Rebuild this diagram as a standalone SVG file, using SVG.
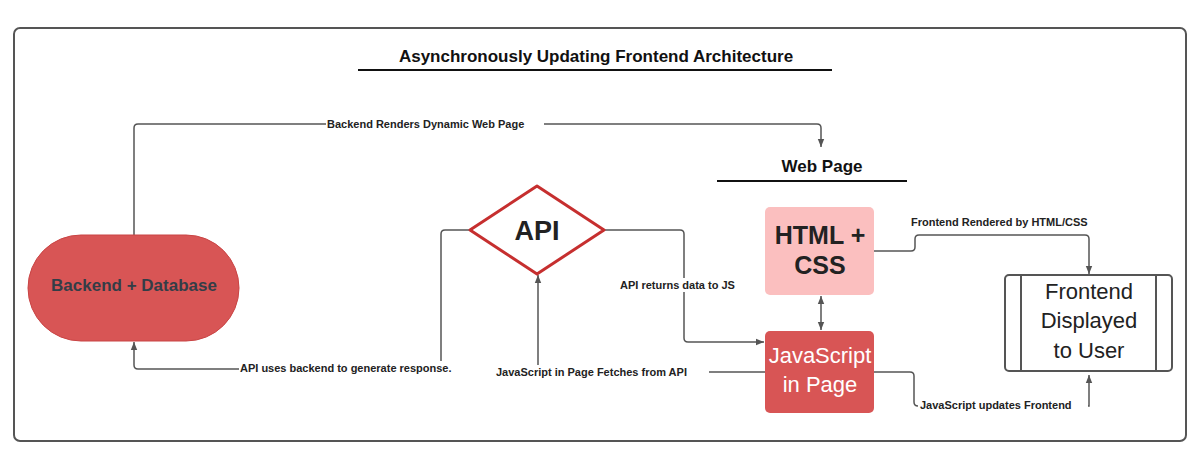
<svg xmlns="http://www.w3.org/2000/svg" width="1200" height="459" viewBox="0 0 1200 459">
<style>
.c{fill:none;stroke:#555;stroke-width:1.5}
.l{font-family:"Liberation Sans",Arial,sans-serif;font-size:11px;font-weight:bold;fill:#222}
.h{font-family:"Liberation Sans",Arial,sans-serif;font-weight:bold;fill:#111;font-size:17px;text-anchor:middle}
.bg{fill:#fff}
</style>
<defs><marker id="a" viewBox="0 0 10 10" refX="10" refY="5" markerWidth="8" markerHeight="8" orient="auto-start-reverse" markerUnits="userSpaceOnUse"><path d="M0,1 L10,5 L0,9 z" fill="#555"/></marker></defs>
<rect x="0" y="0" width="1200" height="459" fill="#fff"/>
<rect x="14" y="28" width="1172" height="413" rx="6" fill="#fff" stroke="#555" stroke-width="2"/>
<text class="h" x="596" y="62">Asynchronously Updating Frontend Architecture</text>
<line x1="358" y1="70" x2="832" y2="70" stroke="#111" stroke-width="2"/>
<text class="h" x="822" y="172">Web Page</text>
<line x1="717" y1="181" x2="907" y2="181" stroke="#111" stroke-width="2"/>
<g id="connectors">
<path class="c" d="M134,235 V128 Q134,124 138,124 H817 Q821,124 821,128 V147" marker-end="url(#a)"/>
<rect class="bg" x="326" y="117" width="218" height="14"/>
<text class="l" x="327" y="128">Backend Renders Dynamic Web Page</text>
<path class="c" d="M470,230 H445 Q441,230 441,234 V369 H138 Q134,369 134,365 V342" marker-end="url(#a)"/>
<rect class="bg" x="239" y="361" width="236" height="14"/>
<text class="l" x="240" y="372">API uses backend to generate response.</text>
<path class="c" d="M765,372 H538 V275" marker-end="url(#a)"/>
<rect class="bg" x="495" y="365" width="214" height="14"/>
<text class="l" x="496" y="376">JavaScript in Page Fetches from API</text>
<path class="c" d="M604,230 H680 Q684,230 684,234 V338 Q684,342 688,342 H764" marker-end="url(#a)"/>
<rect class="bg" x="618" y="278" width="132" height="14"/>
<text class="l" x="620" y="289">API returns data to JS</text>
<path class="c" d="M821,296 V330" marker-start="url(#a)" marker-end="url(#a)"/>
<path class="c" d="M874,251 H911 Q915,251 915,247 V239 Q915,235 919,235 H1085 Q1089,235 1089,239 V274" marker-end="url(#a)"/>
<text class="l" x="911" y="226">Frontend Rendered by HTML/CSS</text>
<path class="c" d="M874,372 H910 Q914,372 914,376 V402 Q914,406 918,406 H1089 V375" marker-end="url(#a)"/>
<rect class="bg" x="918" y="398" width="170" height="14"/>
<text class="l" x="920" y="409">JavaScript updates Frontend</text>
</g>
<g id="backend">
<rect x="28" y="235" width="211" height="106" rx="53" fill="#d85555" stroke="#c94444"/>
<text x="134" y="291" text-anchor="middle" font-family="Liberation Sans,Arial,sans-serif" font-weight="bold" font-size="17" fill="#333d47">Backend + Database</text>
</g>
<g id="api">
<path d="M537,186 L604,230 L537,274 L470,230 Z" fill="#fff" stroke="#c62f2f" stroke-width="3" stroke-linejoin="round"/>
<text x="537" y="240" text-anchor="middle" font-family="Liberation Sans,Arial,sans-serif" font-weight="bold" font-size="27" fill="#222">API</text>
</g>
<g id="html">
<rect x="765" y="207" width="109" height="88" rx="5" fill="#fbbfbf"/>
<text x="820" y="244" text-anchor="middle" font-family="Liberation Sans,Arial,sans-serif" font-weight="bold" font-size="25" fill="#222">HTML +</text>
<text x="820" y="274" text-anchor="middle" font-family="Liberation Sans,Arial,sans-serif" font-weight="bold" font-size="25" fill="#222">CSS</text>
</g>
<g id="js">
<rect x="765" y="331" width="109" height="82" rx="5" fill="#d85555"/>
<text x="820" y="363" text-anchor="middle" font-family="Liberation Sans,Arial,sans-serif" font-size="22" fill="#fff">JavaScript</text>
<text x="820" y="392" text-anchor="middle" font-family="Liberation Sans,Arial,sans-serif" font-size="22" fill="#fff">in Page</text>
</g>
<g id="frontend">
<rect x="1005" y="275" width="167" height="96" rx="4" fill="#fff" stroke="#555" stroke-width="2"/>
<line x1="1021" y1="275" x2="1021" y2="371" stroke="#555" stroke-width="2"/>
<line x1="1156" y1="275" x2="1156" y2="371" stroke="#555" stroke-width="2"/>
<text x="1089" y="299" text-anchor="middle" font-family="Liberation Sans,Arial,sans-serif" font-size="22" fill="#222">Frontend</text>
<text x="1089" y="328" text-anchor="middle" font-family="Liberation Sans,Arial,sans-serif" font-size="22" fill="#222">Displayed</text>
<text x="1089" y="358" text-anchor="middle" font-family="Liberation Sans,Arial,sans-serif" font-size="22" fill="#222">to User</text>
</g>
</svg>
